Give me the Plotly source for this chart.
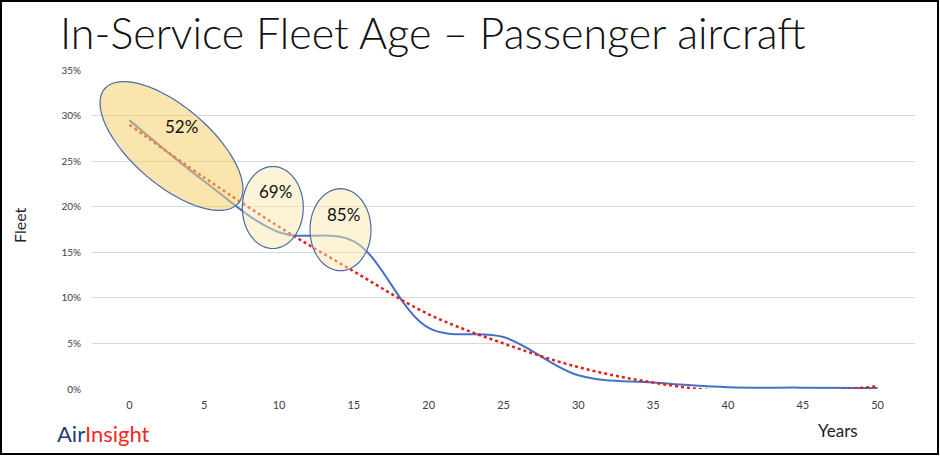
import numpy as np
import plotly.graph_objects as go

# ---- data ----
years = [0, 5, 10, 15, 20, 25, 30, 35, 40, 45, 50]
fleet_share = [0.295, 0.228, 0.172, 0.162, 0.067, 0.057, 0.015, 0.007, 0.002, 0.0015, 0.001]
trend_share = [0.290, 0.232, 0.178, 0.129, 0.082, 0.050, 0.024, 0.007, -0.003, -0.004, 0.003]
x_ticks = [0, 5, 10, 15, 20, 25, 30, 35, 40, 45, 50]
y_ticks = [0, 0.05, 0.10, 0.15, 0.20, 0.25, 0.30, 0.35]
y_tick_labels = ["0%", "5%", "10%", "15%", "20%", "25%", "30%", "35%"]
bubble_labels = ["52%", "69%", "85%"]

W, H = 940, 456
L, R, T, B = 92, 25, 70, 67
XR = [-2.5, 52.5]
YR = [0, 0.35]
pw, ph = W - L - R, H - T - B

def px2data(px, py):
    x = XR[0] + (px - L) / pw * (XR[1] - XR[0])
    y = YR[0] + (T + ph - py) / ph * (YR[1] - YR[0])
    return x, y

def ellipse_path(cx, cy, a, b, ang_deg, n=72):
    t = np.linspace(0, 2 * np.pi, n, endpoint=False)
    th = np.radians(ang_deg)
    pts = []
    for tt in t:
        ex, ey = a * np.cos(tt), b * np.sin(tt)
        px = cx + ex * np.cos(th) - ey * np.sin(th)
        py = cy + ex * np.sin(th) + ey * np.cos(th)
        pts.append(px2data(px, py))
    s = "M %f,%f " % pts[0] + " ".join("L %f,%f" % p for p in pts[1:]) + " Z"
    return s

def paper(px, py):
    return (px - L) / pw, (T + ph - py) / ph

fig = go.Figure()
fig.add_trace(go.Scatter(x=years, y=fleet_share, mode="lines",
                         line=dict(color="#4472C4", width=2, shape="spline", smoothing=1.0),
                         hoverinfo="skip", showlegend=False))
fig.add_trace(go.Scatter(x=years, y=trend_share, mode="lines",
                         line=dict(color="#E0201A", width=2.5, dash="dot", shape="spline", smoothing=1.0),
                         hoverinfo="skip", showlegend=False))

shapes = []
edge = dict(color="#4A6BA8", width=1.2)
shapes.append(dict(type="path", path=ellipse_path(171.5, 146, 88, 39, 40.6),
                   xref="x", yref="y", fillcolor="rgba(248,208,110,0.55)", line=edge, layer="above"))
for (cx, cy) in [(272.8, 207.5), (340.5, 229.7)]:
    shapes.append(dict(type="path", path=ellipse_path(cx, cy, 30.5, 41, 0),
                       xref="x", yref="y", fillcolor="rgba(252,232,175,0.5)", line=edge, layer="above"))
bx0, by0 = paper(1, 1)
bx1, by1 = paper(938, 454)
shapes.append(dict(type="rect", xref="paper", yref="paper", x0=bx0, y0=by1, x1=bx1, y1=by0,
                   line=dict(color="black", width=2), fillcolor="rgba(0,0,0,0)"))

ann = []
for lab, (px, py) in zip(bubble_labels, [(181.7, 126.7), (275, 191.7), (343.3, 214)]):
    x, y = px2data(px, py)
    ann.append(dict(x=x, y=y, xref="x", yref="y", text=lab, showarrow=False,
                    font=dict(family="Lato", size=17, color="#111111")))
tx, ty = paper(58, 33)
ann.append(dict(x=tx, y=ty, xref="paper", yref="paper", xanchor="left", yanchor="middle",
                text="In-Service Fleet Age \u2013 Passenger aircraft", showarrow=False,
                font=dict(family="Lato", size=43, color="#111111", weight=300)))
fx, fy = paper(19, 225)
ann.append(dict(x=fx, y=fy, xref="paper", yref="paper", xanchor="center", yanchor="middle",
                text="Fleet", textangle=-90,
                showarrow=False, font=dict(family="Lato", size=16, color="#222222")))
yx, yy = paper(838, 430)
ann.append(dict(x=yx, y=yy, xref="paper", yref="paper", xanchor="center", yanchor="middle",
                text="Years", showarrow=False,
                font=dict(family="Lato", size=17, color="#222222")))
ax, ay = paper(55, 433)
ann.append(dict(x=ax, y=ay, xref="paper", yref="paper", xanchor="left", yanchor="middle",
                text="<span style='color:#1F3A7A'>Air</span><span style='color:#EE2A24'>Insight</span>",
                showarrow=False, font=dict(family="Lato", size=22)))

fig.update_layout(
    width=W, height=H, margin=dict(l=L, r=R, t=T, b=B),
    paper_bgcolor="white", plot_bgcolor="white",
    shapes=shapes, annotations=ann,
    xaxis=dict(range=XR, tickvals=x_ticks, showgrid=False, zeroline=False, showline=False,
               ticks="", tickfont=dict(family="Lato", size=11, color="#404040"), ticklabelstandoff=8),
    yaxis=dict(range=YR, tickvals=y_ticks, ticktext=y_tick_labels, showgrid=True,
               gridcolor="#D9D9D9", gridwidth=1, zeroline=False, showline=False, ticks="",
               tickfont=dict(family="Lato", size=10, color="#404040"), ticklabelstandoff=10),
)
fig.write_html("out.html")
